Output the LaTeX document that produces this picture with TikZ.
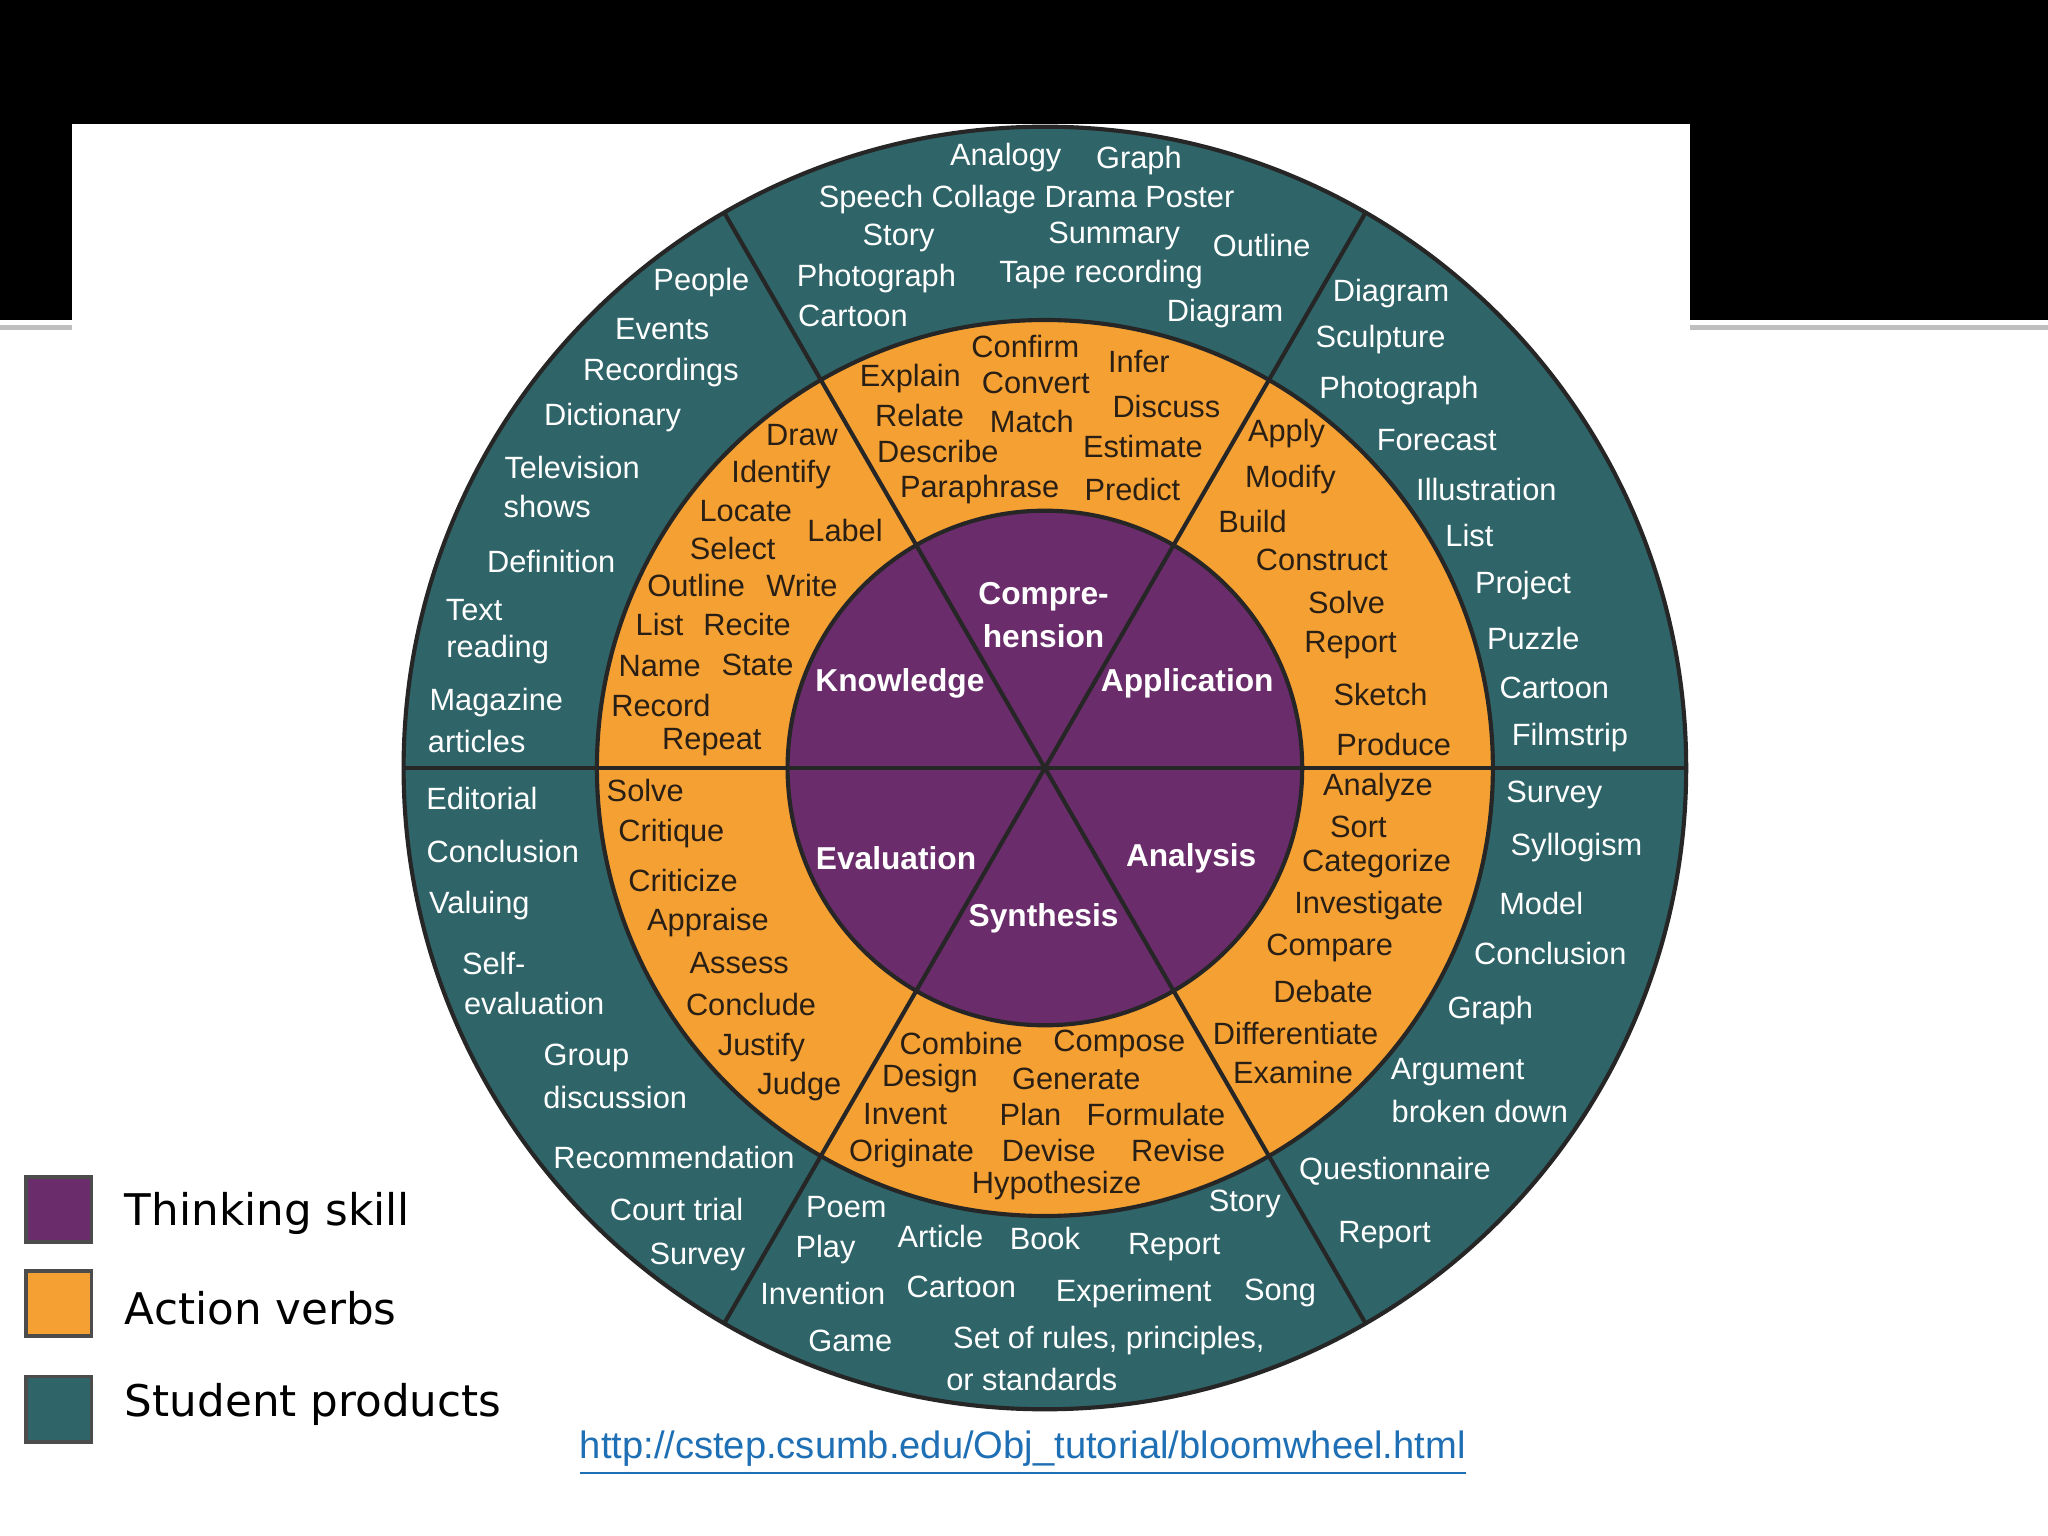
\documentclass[tikz,border=0pt]{standalone}
\usepackage{fontspec}
\setmainfont{Liberation Sans}
\newfontfamily\legfont{DejaVu Sans}
\definecolor{bpurple}{HTML}{6A2C6A}
\definecolor{borange}{HTML}{F5A033}
\definecolor{bteal}{HTML}{2F6468}
\definecolor{btext}{HTML}{2A1F14}
\definecolor{blink}{HTML}{1F6FB5}
\tikzset{
 tw/.style={text=white,font=\fontsize{6.7}{7}\selectfont,inner sep=0pt},
 to/.style={text=btext,font=\fontsize{6.7}{7}\selectfont,inner sep=0pt},
 tp/.style={text=white,font=\bfseries\fontsize{6.9}{7}\selectfont,inner sep=0pt},
 wheelline/.style={draw=black!85,line width=0.9pt},
 legbox/.style={draw=black!70,line width=0.8pt,minimum size=0.5cm,inner sep=0pt},
 legtext/.style={font=\legfont\fontsize{9.5}{11}\selectfont,anchor=west,inner sep=0pt}
}
\begin{document}
\begin{tikzpicture}[x=0.01cm,y=-0.01cm]
\useasboundingbox (0,0) rectangle (1568,1176);
\fill[white] (0,0) rectangle (1568,1176);
\fill[black] (0,0) rectangle (1568,95);
\fill[black] (0,95) rectangle (55,245);
\fill[black] (1294,95) rectangle (1568,245);
\fill[black!25] (0,249) rectangle (55,253);
\fill[black!25] (1294,249) rectangle (1568,253);
% wheel
\coordinate (c) at (800,588);
\fill[bteal] (c) circle (491);
\fill[borange] (c) circle (343);
\fill[bpurple] (c) circle (197);
\draw[wheelline] (c) circle (491);
\draw[wheelline] (c) circle (343);
\draw[wheelline] (c) circle (197);
\foreach \a in {0,60,120,180,240,300}
  \draw[wheelline] (c) -- ++(\a:491 and -491);
% purple labels
\node[tp] (p1) at (799,457) {Compre-};
\node[tp] (p2) at (799,487) {hension};
\node[tp] (p3) at (689,523) {Knowledge};
\node[tp] (p4) at (909,523) {Application};
\node[tp] (p5) at (686,657) {Evaluation};
\node[tp] (p6) at (912,657) {Analysis};
\node[tp] (p7) at (799,703) {Synthesis};
% orange labels
\foreach \x/\y/\t in {785/265/Confirm,872/277/Infer,697/290/Explain,793/293/Convert,893/311/Discuss,704/318/Relate,790/323/Match,718/346/Describe,875/342/Estimate,750/375/Paraphrase,867/375/Predict,
614/333/Draw,598/363/Identify,571/391/Locate,647/406/Label,561/420/Select,533/448/Outline,614/448/Write,505/478/List,572/478/Recite,505/510/Name,580/509/State,506/540/Record,545/568/Repeat,
985/332/Apply,988/367/Modify,959/399/Build,1012/429/Construct,1031/461/Solve,1034/494/Report,1057/532/Sketch,1067/570/Produce,
1055/603/Analyze,1040/633/Sort,1054/661/Categorize,1048/693/Investigate,1018/726/Compare,1013/759/Debate,992/791/Differentiate,990/821/Examine,
736/799/Combine,857/799/Compose,712/826/Design,824/826/Generate,693/853/Invent,789/853/Plan,885/853/Formulate,698/883/Originate,803/881/Devise,902/881/Revise,809/908/Hypothesize,
494/605/Solve,514/638/Critique,523/674/Criticize,542/706/Appraise,566/737/Assess,575/769/Conclude,583/802/Justify,612/832/Judge}
  \node[to] at (\x,\y) {\t};
% teal labels
\foreach \x/\y/\t in {770/121/Analogy,872/123/Graph,786/153/Speech Collage Drama Poster,688/182/Story,853/181/Summary,966/188/Outline,671/213/Photograph,843/210/Tape recording,653/242/Cartoon,938/240/Diagram,
537/216/People,507/252/Events,506/285/Recordings,469/320/Dictionary,438/358/Television,419/388/shows,422/430/Definition,363/467/Text,381/497/reading,380/538/Magazine,365/568/articles,
1065/225/Diagram,1057/260/Sculpture,1071/299/Photograph,1100/337/Forecast,1138/375/Illustration,1125/410/List,1166/448/Project,1174/489/Puzzle,1190/527/Cartoon,1202/565/Filmstrip,
1190/609/Survey,1207/649/Syllogism,1180/692/Model,1187/730/Conclusion,1141/774/Graph,1116/821/Argument,1133/851/broken down,1068/897/Questionnaire,1060/946/Report,
953/922/Story,648/924/Poem,632/957/Play,720/947/Article,800/948/Book,899/955/Report,630/990/Invention,736/985/Cartoon,868/990/Experiment,980/990/Song,651/1027/Game,849/1026/{Set of rules, principles,},790/1056/or standards,
369/611/Editorial,385/652/Conclusion,367/693/Valuing,378/738/Self-,409/768/evaluation,449/810/Group,471/840/discussion,516/886/Recommendation,518/926/Court trial,534/962/Survey}
  \node[tw] at (\x,\y) {\t};
% legend
\node[legbox,fill=bpurple] (l1) at (45,926) {};
\node[legbox,fill=borange] (l2) at (45,998) {};
\node[legbox,fill=bteal] (l3) at (45,1079) {};
\node[legtext] (t1) at (95,929) {Thinking skill};
\node[legtext] (t2) at (95,1002) {Action verbs};
\node[legtext] (t3) at (95,1075) {Student products};
\node[font=\fontsize{8.3}{10}\selectfont,text=blink,inner sep=0pt] (lk) at (783,1113) {\underline{http://cstep.csumb.edu/Obj\_tutorial/bloomwheel.html}};
\end{tikzpicture}
\end{document}
